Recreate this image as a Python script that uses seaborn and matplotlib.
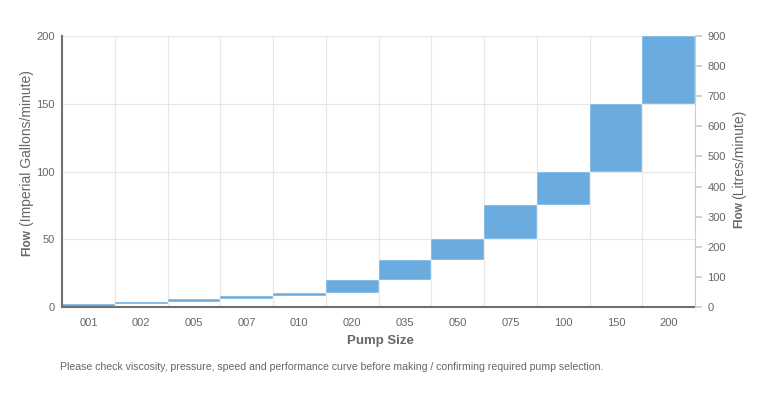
import matplotlib.pyplot as plt
import numpy as np
import pandas as pd
import seaborn as sns

# Pump sizes and flow ranges (imperial gallons/minute)
pump_sizes = ['001', '002', '005', '007', '010', '020', '035', '050', '075', '100', '150', '200']
flow_low = [0, 2, 4, 6, 8, 10, 20, 35, 50, 75, 100, 150]
flow_high = [2, 4, 6, 8, 10, 20, 35, 50, 75, 100, 150, 200]
litres_ticks = [0, 100, 200, 300, 400, 500, 600, 700, 800, 900]
gallon_ticks = [0, 50, 100, 150, 200]

text_grey = '#666666'
bar_blue = '#6aacdf'

sns.set_theme(style='white')
plt.rcParams['font.family'] = ['Liberation Sans', 'DejaVu Sans']

df = pd.DataFrame({'Pump Size': pump_sizes,
                   'Span': np.array(flow_high) - np.array(flow_low)})

fig = plt.figure(figsize=(7.68, 3.97), dpi=100)
ax = fig.add_axes([62 / 768, 1 - 307 / 397, 633 / 768, 271 / 397])

# Floating bars: span stacked on top of the low value
sns.barplot(data=df, x='Pump Size', y='Span', bottom=flow_low, width=1,
            color=bar_blue, saturation=1, edgecolor='white', linewidth=0.3, ax=ax, zorder=3)

ax.set_xlim(-0.5, len(pump_sizes) - 0.5)
ax.set_ylim(0, 200)
ax.set_yticks(gallon_ticks)
ax.set_xticks(np.arange(len(pump_sizes)))
ax.set_xticklabels(pump_sizes)
ax.tick_params(axis='x', length=0, labelsize=8, labelcolor=text_grey, pad=8)
ax.tick_params(axis='y', length=0, labelsize=8, labelcolor=text_grey, pad=5)
ax.set_xlabel('')
ax.set_ylabel('')

# grid lines: horizontal at left ticks, vertical at category boundaries
for y in gallon_ticks[1:]:
    ax.axhline(y, color='#e6e6e6', lw=0.8, zorder=1)
for x in np.arange(0.5, len(pump_sizes) - 0.5, 1):
    ax.axvline(x, color='#e6e6e6', lw=0.8, zorder=1)

for side in ['top', 'right']:
    ax.spines[side].set_visible(False)
for side in ['left', 'bottom']:
    ax.spines[side].set_color('#707070')
    ax.spines[side].set_linewidth(1.5)
    ax.spines[side].set_zorder(4)

# right axis in litres/minute
ax2 = ax.twinx()
ax2.set_ylim(0, 900)
ax2.set_yticks(litres_ticks)
ax2.tick_params(axis='y', length=5, color='#cccccc', labelsize=8, labelcolor=text_grey, pad=4)
for side in ['top', 'left', 'bottom']:
    ax2.spines[side].set_visible(False)
ax2.spines['right'].set_color('#cccccc')
ax2.spines['right'].set_linewidth(0.8)
ax2.grid(False)

# axis titles
fig.text(27 / 768, 1 - 256 / 397, 'Flow', rotation=90, ha='center', va='bottom',
         fontsize=8.5, fontweight='bold', color=text_grey)
fig.text(27 / 768, 1 - 226 / 397, '(Imperial Gallons/minute)', rotation=90, ha='center', va='bottom',
         fontsize=10, color=text_grey)
fig.text(739 / 768, 1 - 228 / 397, 'Flow', rotation=90, ha='center', va='bottom',
         fontsize=8.5, fontweight='bold', color=text_grey)
fig.text(739 / 768, 1 - 199 / 397, '(Litres/minute)', rotation=90, ha='center', va='bottom',
         fontsize=10, color=text_grey)
fig.text(380 / 768, 1 - 341 / 397, 'Pump Size', ha='center', va='center',
         fontsize=9.5, fontweight='bold', color=text_grey)
fig.text(60 / 768, 1 - 367 / 397,
         'Please check viscosity, pressure, speed and performance curve before making / confirming required pump selection.',
         ha='left', va='center', fontsize=7.6, color=text_grey)

plt.savefig('out.png', dpi=100)
